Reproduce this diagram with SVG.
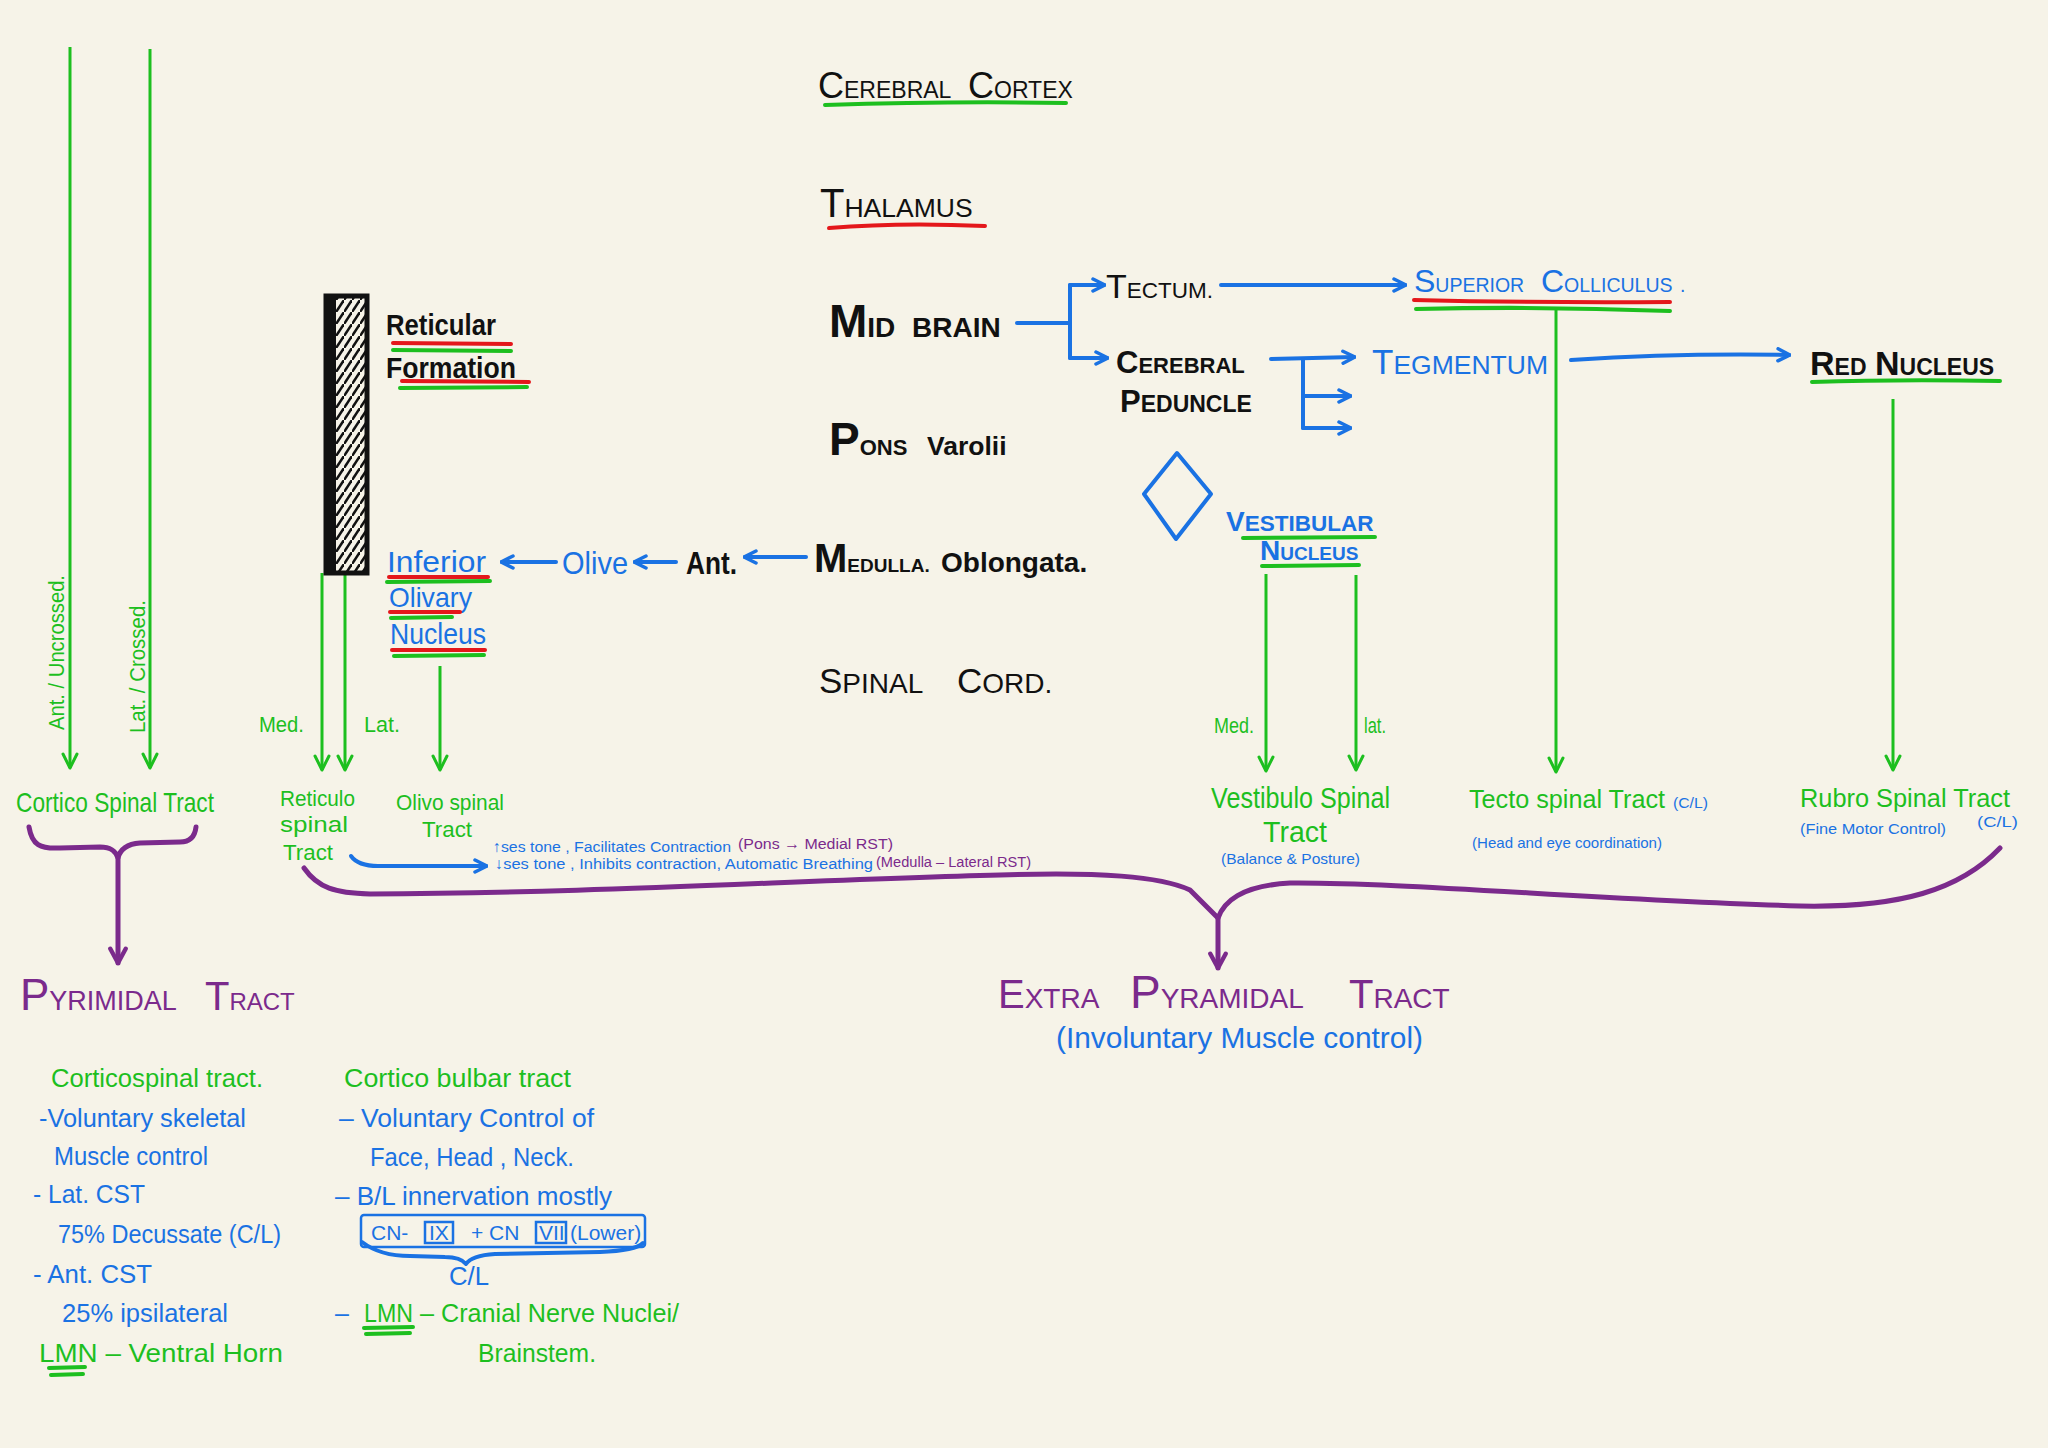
<svg xmlns="http://www.w3.org/2000/svg" width="2048" height="1448" viewBox="0 0 2048 1448">
<style>
text { font-family: "Liberation Sans", Arial, sans-serif; }
.g { fill: #1dbf1f; }
.b { fill: #1a72e3; }
.k { fill: #111111; }
.p { fill: #7b2a8c; }
.bold { font-weight: bold; }
.lg { stroke: #1dbf1f; stroke-width: 3; fill: none; }
.lb { stroke: #1a72e3; stroke-width: 4; fill: none; stroke-linecap: round; stroke-linejoin: round; }
.lp { stroke: #7b2a8c; stroke-width: 5; fill: none; stroke-linecap: round; stroke-linejoin: round; }
.ur { stroke: #e4171b; stroke-width: 4; stroke-linecap: round; fill: none; }
.ug { stroke: #1dbf1f; stroke-width: 4; stroke-linecap: round; fill: none; }
.bx { stroke: #1a72e3; stroke-width: 2.5; fill: none; }
</style>
<defs>
<marker id="gv" viewBox="0 0 20 20" refX="18" refY="10" markerWidth="20" markerHeight="20" markerUnits="userSpaceOnUse" orient="auto">
<path d="M4,3 L18,10 L4,17" fill="none" stroke="#1dbf1f" stroke-width="3" stroke-linecap="round" stroke-linejoin="round"/>
</marker>
<marker id="pv" viewBox="0 0 20 20" refX="18" refY="10" markerWidth="22" markerHeight="22" markerUnits="userSpaceOnUse" orient="auto">
<path d="M5,3 L18,10 L5,17" fill="none" stroke="#7b2a8c" stroke-width="4" stroke-linecap="round" stroke-linejoin="round"/>
</marker>
<marker id="ba" viewBox="0 0 16 16" refX="14" refY="8" markerWidth="16" markerHeight="16" markerUnits="userSpaceOnUse" orient="auto">
<path d="M3,2 L15,8 L3,14" fill="none" stroke="#1a72e3" stroke-width="3.5" stroke-linecap="round" stroke-linejoin="round"/>
</marker>
<pattern id="hatch" patternUnits="userSpaceOnUse" width="8" height="12">
<path d="M-1,13.5 L9,-1.5" stroke="#111" stroke-width="2.6"/>
</pattern>
</defs>
<rect width="2048" height="1448" fill="#f6f3e8"/>

<g id="connectors">
<path class="lg" d="M70,47 L70,768" marker-end="url(#gv)"/>
<path class="lg" d="M150,49 L150,768" marker-end="url(#gv)"/>
<path class="lg" d="M322,573 L322,770" marker-end="url(#gv)"/>
<path class="lg" d="M345,573 L345,770" marker-end="url(#gv)"/>
<path class="lg" d="M440,666 L440,770" marker-end="url(#gv)"/>
<path class="lg" d="M1266,574 L1266,771" marker-end="url(#gv)"/>
<path class="lg" d="M1356,575 L1356,770" marker-end="url(#gv)"/>
<path class="lg" d="M1556,310 L1556,772" marker-end="url(#gv)"/>
<path class="lg" d="M1893,399 L1893,770" marker-end="url(#gv)"/>

<path class="lb" d="M1017,323 L1070,323"/>
<path class="lb" d="M1070,285 L1070,358"/>
<path class="lb" d="M1070,285 L1104,285" marker-end="url(#ba)"/>
<path class="lb" d="M1070,358 L1107,358" marker-end="url(#ba)"/>
<path class="lb" d="M1221,285 L1405,285" marker-end="url(#ba)"/>
<path class="lb" d="M1271,359 L1354,357" marker-end="url(#ba)"/>
<path class="lb" d="M1303,359 L1303,428"/>
<path class="lb" d="M1303,396 L1350,396" marker-end="url(#ba)"/>
<path class="lb" d="M1303,428 L1350,428" marker-end="url(#ba)"/>
<path class="lb" d="M1571,360 Q1680,353 1789,355" marker-end="url(#ba)"/>
<path class="lb" d="M806,557 L745,557" marker-end="url(#ba)"/>
<path class="lb" d="M676,562 L635,562" marker-end="url(#ba)"/>
<path class="lb" d="M556,562 L502,562" marker-end="url(#ba)"/>
<path class="lb" d="M351,856 Q358,866 378,866 L486,866" marker-end="url(#ba)"/>

<path class="lp" d="M29,827 C32,845 40,849 60,848 L100,847 C112,847 116,852 118,858 C120,850 126,844 140,843 L180,842 C190,842 195,836 196,827"/>
<path class="lp" d="M118,858 L118,963" marker-end="url(#pv)"/>
<path class="lp" d="M304,868 C318,888 335,893 370,894 C600,893 800,880 1000,875 C1100,872 1160,876 1190,890 L1218,918 C1224,902 1240,886 1290,883 C1400,882 1600,900 1800,906 C1900,908 1960,890 2000,848"/>
<path class="lp" d="M1218,918 L1218,968" marker-end="url(#pv)"/>
</g>

<g id="cerebral-cortex">
<text class="k" y="98"><tspan x="818" font-size="36">C</tspan><tspan font-size="23">EREBRAL </tspan><tspan x="968" font-size="36">C</tspan><tspan font-size="23">ORTEX</tspan></text>
<path class="ug" d="M825,105 Q950,101 1066,103"/>
</g>

<g id="thalamus">
<text class="k" x="820" y="217"><tspan font-size="40">T</tspan><tspan font-size="26.5">HALAMUS</tspan></text>
<path class="ur" d="M829,228 Q900,222 985,226"/>
</g>

<g id="mid-brain">
<text class="k bold" y="337"><tspan x="829" font-size="46">M</tspan><tspan font-size="28">ID </tspan><tspan x="912" font-size="28">BRAIN</tspan></text>
</g>

<g id="pons">
<text class="k bold" y="455"><tspan x="829" font-size="46">P</tspan><tspan font-size="22">ONS </tspan><tspan x="927" font-size="26.5">Varolii</tspan></text>
</g>

<g id="medulla">
<text class="k bold" y="572"><tspan x="814" font-size="40">M</tspan><tspan font-size="19">EDULLA. </tspan><tspan x="941" font-size="28">Oblongata.</tspan></text>
</g>

<g id="spinal-cord">
<text class="k" y="693"><tspan x="819" font-size="35">S</tspan><tspan font-size="28">PINAL </tspan><tspan x="957" font-size="35">C</tspan><tspan font-size="28">ORD.</tspan></text>
</g>

<g id="tectum">
<text class="k" x="1106" y="298"><tspan font-size="34">T</tspan><tspan font-size="22.5">ECTUM.</tspan></text>
</g>

<g id="cerebral-peduncle">
<text class="k bold" x="1116" y="373"><tspan font-size="31">C</tspan><tspan font-size="22">EREBRAL</tspan></text>
<text class="k bold" x="1120" y="412"><tspan font-size="31">P</tspan><tspan font-size="23">EDUNCLE</tspan></text>
</g>

<g id="superior-colliculus">
<text class="b" y="292"><tspan x="1414" font-size="32">S</tspan><tspan font-size="19.5">UPERIOR </tspan><tspan x="1541" font-size="32">C</tspan><tspan font-size="19.5">OLLICULUS </tspan><tspan x="1680" font-size="19.5">.</tspan></text>
<path class="ur" d="M1414,300 Q1540,303 1670,302"/>
<path class="ug" d="M1416,309 Q1540,306 1670,311"/>
</g>

<g id="tegmentum">
<text class="b" x="1372" y="374"><tspan font-size="35">T</tspan><tspan font-size="26.5">EGMENTUM</tspan></text>
</g>

<g id="red-nucleus">
<text class="k bold" y="375"><tspan x="1810" font-size="34">R</tspan><tspan font-size="23">ED </tspan><tspan x="1875" font-size="34">N</tspan><tspan font-size="23">UCLEUS</tspan></text>
<path class="ug" d="M1812,382 Q1900,379 2000,381"/>
</g>

<g id="vestibular-nucleus">
<polygon points="1177,453 1211,494 1176,539 1144,494" fill="none" stroke="#1a72e3" stroke-width="4" stroke-linejoin="round"/>
<text class="b bold" x="1226" y="531"><tspan font-size="28">V</tspan><tspan font-size="22.5">ESTIBULAR</tspan></text>
<path class="ug" d="M1243,538 L1375,537"/>
<text class="b bold" x="1260" y="560"><tspan font-size="28">N</tspan><tspan font-size="19">UCLEUS</tspan></text>
<path class="ug" d="M1262,566 L1359,565"/>
<text class="g" x="1214" y="733" font-size="22" textLength="40" lengthAdjust="spacingAndGlyphs">Med.</text>
<text class="g" x="1364" y="733" font-size="22" textLength="22" lengthAdjust="spacingAndGlyphs">lat.</text>
</g>

<g id="reticular-formation">
<rect x="326" y="296" width="41" height="277" fill="url(#hatch)" stroke="#111" stroke-width="5"/>
<rect x="325" y="296" width="11" height="277" fill="#111"/>
<text class="k bold" x="386" y="335" font-size="29" textLength="110" lengthAdjust="spacingAndGlyphs">Reticular</text>
<path class="ur" d="M393,343 L511,344"/>
<path class="ug" d="M393,350 L511,351"/>
<text class="k bold" x="386" y="378" font-size="29" textLength="130" lengthAdjust="spacingAndGlyphs">Formation</text>
<path class="ur" d="M402,381 L529,382"/>
<path class="ug" d="M400,388 L527,387"/>
<text class="g" x="259" y="732" font-size="22" textLength="45" lengthAdjust="spacingAndGlyphs">Med.</text>
<text class="g" x="364" y="732" font-size="22" textLength="36" lengthAdjust="spacingAndGlyphs">Lat.</text>
</g>

<g id="inferior-olivary-nucleus">
<text class="b" x="387" y="572" font-size="30" textLength="99" lengthAdjust="spacingAndGlyphs">Inferior</text>
<path class="ur" d="M389,577 L488,577"/>
<path class="ug" d="M387,582 L490,581"/>
<text class="b" x="389" y="607" font-size="28" textLength="83" lengthAdjust="spacingAndGlyphs">Olivary</text>
<path class="ur" d="M390,612 L460,612"/>
<path class="ug" d="M391,618 L452,617"/>
<text class="b" x="390" y="644" font-size="30" textLength="96" lengthAdjust="spacingAndGlyphs">Nucleus</text>
<path class="ur" d="M392,650 L485,650"/>
<path class="ug" d="M394,656 L484,655"/>
</g>

<g id="olive">
<text class="b" x="562" y="574" font-size="32" textLength="66" lengthAdjust="spacingAndGlyphs">Olive</text>
</g>
<g id="ant">
<text class="k bold" x="686" y="574" font-size="31" textLength="51" lengthAdjust="spacingAndGlyphs">Ant.</text>
</g>

<g id="corticospinal-tract">
<text class="g" transform="translate(64,730) rotate(-90)" font-size="22" textLength="155" lengthAdjust="spacingAndGlyphs">Ant. / Uncrossed.</text>
<text class="g" transform="translate(145,733) rotate(-90)" font-size="22" textLength="133" lengthAdjust="spacingAndGlyphs">Lat. / Crossed.</text>
<text class="g" x="16" y="812" font-size="28" textLength="198" lengthAdjust="spacingAndGlyphs">Cortico Spinal Tract</text>
</g>

<g id="reticulospinal-tract">
<text class="g" x="280" y="806" font-size="22" textLength="75" lengthAdjust="spacingAndGlyphs">Reticulo</text>
<text class="g" x="280" y="832" font-size="22" textLength="68" lengthAdjust="spacingAndGlyphs">spinal</text>
<text class="g" x="283" y="860" font-size="22" textLength="50" lengthAdjust="spacingAndGlyphs">Tract</text>
</g>

<g id="olivospinal-tract">
<text class="g" x="396" y="810" font-size="22" textLength="108" lengthAdjust="spacingAndGlyphs">Olivo spinal</text>
<text class="g" x="422" y="837" font-size="22" textLength="50" lengthAdjust="spacingAndGlyphs">Tract</text>
</g>

<g id="reticulospinal-notes">
<text class="b" x="493" y="852" font-size="15.5" textLength="238" lengthAdjust="spacingAndGlyphs">↑ses tone , Facilitates Contraction</text>
<text class="p" x="738" y="849" font-size="15.5" textLength="155" lengthAdjust="spacingAndGlyphs">(Pons → Medial RST)</text>
<text class="b" x="495" y="869" font-size="15.5" textLength="378" lengthAdjust="spacingAndGlyphs">↓ses tone , Inhibits contraction, Automatic Breathing</text>
<text class="p" x="876" y="867" font-size="15.5" textLength="155" lengthAdjust="spacingAndGlyphs">(Medulla – Lateral RST)</text>
</g>

<g id="vestibulospinal-tract">
<text class="g" x="1211" y="808" font-size="29" textLength="179" lengthAdjust="spacingAndGlyphs">Vestibulo Spinal</text>
<text class="g" x="1263" y="842" font-size="29" textLength="64" lengthAdjust="spacingAndGlyphs">Tract</text>
<text class="b" x="1221" y="864" font-size="15" textLength="139" lengthAdjust="spacingAndGlyphs">(Balance &amp; Posture)</text>
</g>

<g id="tectospinal-tract">
<text class="g" x="1469" y="808" font-size="25.5" textLength="196" lengthAdjust="spacingAndGlyphs">Tecto spinal Tract</text>
<text class="b" x="1673" y="808" font-size="15" textLength="35" lengthAdjust="spacingAndGlyphs">(C/L)</text>
<text class="b" x="1472" y="848" font-size="15" textLength="190" lengthAdjust="spacingAndGlyphs">(Head and eye coordination)</text>
</g>

<g id="rubrospinal-tract">
<text class="g" x="1800" y="807" font-size="26" textLength="210" lengthAdjust="spacingAndGlyphs">Rubro Spinal Tract</text>
<text class="b" x="1800" y="834" font-size="15" textLength="146" lengthAdjust="spacingAndGlyphs">(Fine Motor Control)</text>
<text class="b" x="1977" y="827" font-size="14" textLength="41" lengthAdjust="spacingAndGlyphs">(C/L)</text>
</g>

<g id="pyramidal-tract">
<text class="p" y="1010"><tspan x="20" font-size="44">P</tspan><tspan font-size="27">YRIMIDAL </tspan><tspan x="205" font-size="40">T</tspan><tspan font-size="24">RACT</tspan></text>
</g>

<g id="extra-pyramidal-tract">
<text class="p" y="1008"><tspan x="998" font-size="40">E</tspan><tspan font-size="28">XTRA </tspan><tspan x="1130" font-size="46">P</tspan><tspan font-size="28">YRAMIDAL </tspan><tspan x="1349" font-size="40">T</tspan><tspan font-size="28">RACT</tspan></text>
<text class="b" x="1056" y="1048" font-size="30" textLength="367" lengthAdjust="spacingAndGlyphs">(Involuntary Muscle control)</text>
</g>

<g id="corticospinal-notes">
<text class="g" x="51" y="1087" font-size="26" textLength="212" lengthAdjust="spacingAndGlyphs">Corticospinal tract.</text>
<text class="b" x="39" y="1127" font-size="25" textLength="207" lengthAdjust="spacingAndGlyphs">-Voluntary skeletal</text>
<text class="b" x="54" y="1165" font-size="25" textLength="154" lengthAdjust="spacingAndGlyphs">Muscle control</text>
<text class="b" x="33" y="1203" font-size="25" textLength="112" lengthAdjust="spacingAndGlyphs">- Lat. CST</text>
<text class="b" x="58" y="1243" font-size="25" textLength="223" lengthAdjust="spacingAndGlyphs">75% Decussate (C/L)</text>
<text class="b" x="33" y="1283" font-size="25" textLength="119" lengthAdjust="spacingAndGlyphs">- Ant. CST</text>
<text class="b" x="62" y="1322" font-size="25" textLength="166" lengthAdjust="spacingAndGlyphs">25% ipsilateral</text>
<text class="g" x="39" y="1362" font-size="26" textLength="244" lengthAdjust="spacingAndGlyphs">LMN – Ventral Horn</text>
<path class="ug" d="M49,1368 L85,1367" stroke-width="3"/>
<path class="ug" d="M51,1375 L83,1374" stroke-width="3"/>
</g>

<g id="corticobulbar-notes">
<text class="g" x="344" y="1087" font-size="26" textLength="227" lengthAdjust="spacingAndGlyphs">Cortico bulbar tract</text>
<text class="b" x="339" y="1127" font-size="25" textLength="255" lengthAdjust="spacingAndGlyphs">– Voluntary Control of</text>
<text class="b" x="370" y="1166" font-size="25" textLength="204" lengthAdjust="spacingAndGlyphs">Face, Head , Neck.</text>
<text class="b" x="335" y="1205" font-size="25" textLength="277" lengthAdjust="spacingAndGlyphs">– B/L innervation mostly</text>
<rect class="bx" x="361" y="1215" width="284" height="32" rx="3"/>
<text class="b" y="1240" font-size="21"><tspan x="371">CN-</tspan><tspan x="429">IX</tspan><tspan x="471">+ CN</tspan><tspan x="539">VII</tspan><tspan x="570">(Lower)</tspan></text>
<rect class="bx" x="425" y="1222" width="28" height="21" stroke-width="2"/>
<rect class="bx" x="536" y="1222" width="30" height="21" stroke-width="2"/>
<path class="lb" d="M362,1242 C375,1252 390,1256 410,1256 L445,1257 C456,1257 462,1259 466,1264 C470,1258 478,1255 495,1254 L600,1252 C625,1251 638,1248 643,1243" stroke-width="3"/>
<text class="b" x="449" y="1285" font-size="25" textLength="40" lengthAdjust="spacingAndGlyphs">C/L</text>
<text class="b" x="335" y="1322" font-size="25">–</text>
<text class="g" x="364" y="1322" font-size="26" textLength="49" lengthAdjust="spacingAndGlyphs">LMN</text>
<text class="g" x="420" y="1322" font-size="26" textLength="259" lengthAdjust="spacingAndGlyphs">– Cranial Nerve Nuclei/</text>
<path class="ug" d="M364,1328 L413,1327" stroke-width="3"/>
<path class="ug" d="M366,1334 L410,1333" stroke-width="3"/>
<text class="g" x="478" y="1362" font-size="26" textLength="118" lengthAdjust="spacingAndGlyphs">Brainstem.</text>
</g>
</svg>
